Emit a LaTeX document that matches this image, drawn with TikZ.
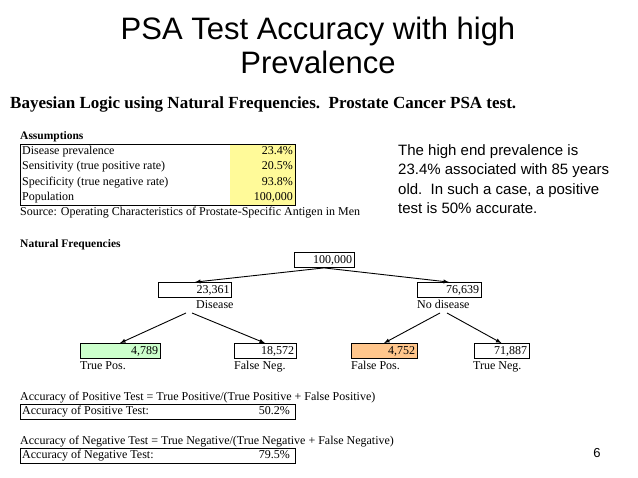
\documentclass[tikz,border=0pt]{standalone}
\usepackage{fontspec}
\setmainfont{Liberation Serif}
\newfontfamily\arial{Liberation Sans}
\begin{document}
\begin{tikzpicture}[x=1pt,y=-1pt,
  txt/.style={font=\fontsize{12}{14}\selectfont,inner sep=0,anchor=west,text height=8pt,text depth=2.5pt},
  bx/.style={draw,line width=0.8pt,minimum height=15pt,inner sep=2pt,font=\fontsize{12}{14}\selectfont,align=right,text width=#1-6pt},
  arr/.style={-latex,line width=0.9pt}]
\useasboundingbox (0,0) rectangle (638,478);
\node[font=\arial\fontsize{31}{34}\selectfont,align=center] (t) at (318,45) {PSA Test Accuracy with high\\Prevalence};
\node[font=\bfseries\fontsize{17}{20}\selectfont,inner sep=0,anchor=west] (st) at (10,104) {Bayesian Logic using Natural Frequencies.\ \ Prostate Cancer PSA test.};
\node[txt,font=\bfseries\fontsize{11.5}{13}\selectfont] (as) at (20,137) {Assumptions};
\fill[yellow!40] (230,144) rectangle (295,205);
\draw[line width=0.9pt] (20,144) rectangle (295,205);
\node[txt] (l1) at (22,151.5) {Disease prevalence};
\node[txt] (l2) at (22,167) {Sensitivity (true positive rate)};
\node[txt] (l3) at (22,182.5) {Specificity (true negative rate)};
\node[txt] (l4) at (22,198) {Population};
\node[txt,anchor=east] (v1) at (293,151.5) {23.4\%};
\node[txt,anchor=east] (v2) at (293,167) {20.5\%};
\node[txt,anchor=east] (v3) at (293,182.5) {93.8\%};
\node[txt,anchor=east] (v4) at (293,198) {100,000};
\node[txt] (src) at (20,213) {Source: Operating Characteristics of Prostate-Specific Antigen in Men};
\node[font=\arial\fontsize{15}{19.5}\selectfont,align=left,anchor=north west,inner sep=0] (rt) at (398,144) {The high end prevalence is\\23.4\% associated with 85 years\\old.\ \ In such a case, a positive\\test is 50\% accurate.};
\node[txt,font=\bfseries\fontsize{11.5}{13}\selectfont] (nf) at (20,245) {Natural Frequencies};
\node[bx=62pt] (n0) at (324,260) {100,000};
\node[bx=75pt] (n1) at (195,290) {23,361};
\node[bx=66pt] (n2) at (449,290) {76,639};
\node[txt] (d1) at (196,306) {Disease};
\node[txt] (d2) at (417,306) {No disease};
\node[bx=82pt,fill=green!20] (a) at (120,351) {4,789};
\node[bx=64pt] (b) at (265,351) {18,572};
\node[bx=68pt,fill=orange!45] (c) at (384,351) {4,752};
\node[bx=57pt] (d) at (501.5,351) {71,887};
\node[txt] (la) at (80,367) {True Pos.};
\node[txt] (lb) at (234,367) {False Neg.};
\node[txt] (lc) at (351,367) {False Pos.};
\node[txt] (ld) at (473,367) {True Neg.};
\coordinate (s1) at (186,313); \coordinate (s2) at (192,313);
\coordinate (s3) at (440,313); \coordinate (s4) at (447,313);
\draw[arr] (n0.south) -- (n1.north);
\draw[arr] (n0.south) -- (n2.north);
\draw[arr] (s1) -- (a.north);
\draw[arr] (s2) -- (b.north);
\draw[arr] (s3) -- (c.north);
\draw[arr] (s4) -- (d.north);
\node[txt] (f1) at (20,398) {Accuracy of Positive Test = True Positive/(True Positive + False Positive)};
\draw[line width=0.8pt] (20,404) rectangle (295,419);
\node[txt] (p1) at (22,411.5) {Accuracy of Positive Test:};
\node[txt,anchor=east] (p2) at (290,411.5) {50.2\%};
\node[txt] (f2) at (20,442) {Accuracy of Negative Test = True Negative/(True Negative + False Negative)};
\draw[line width=0.8pt] (20,448) rectangle (295,463);
\node[txt] (q1) at (22,455.5) {Accuracy of Negative Test:};
\node[txt,anchor=east] (q2) at (290,455.5) {79.5\%};
\node[font=\arial\fontsize{13}{15}\selectfont] (pg) at (597,453) {6};
\end{tikzpicture}
\end{document}
